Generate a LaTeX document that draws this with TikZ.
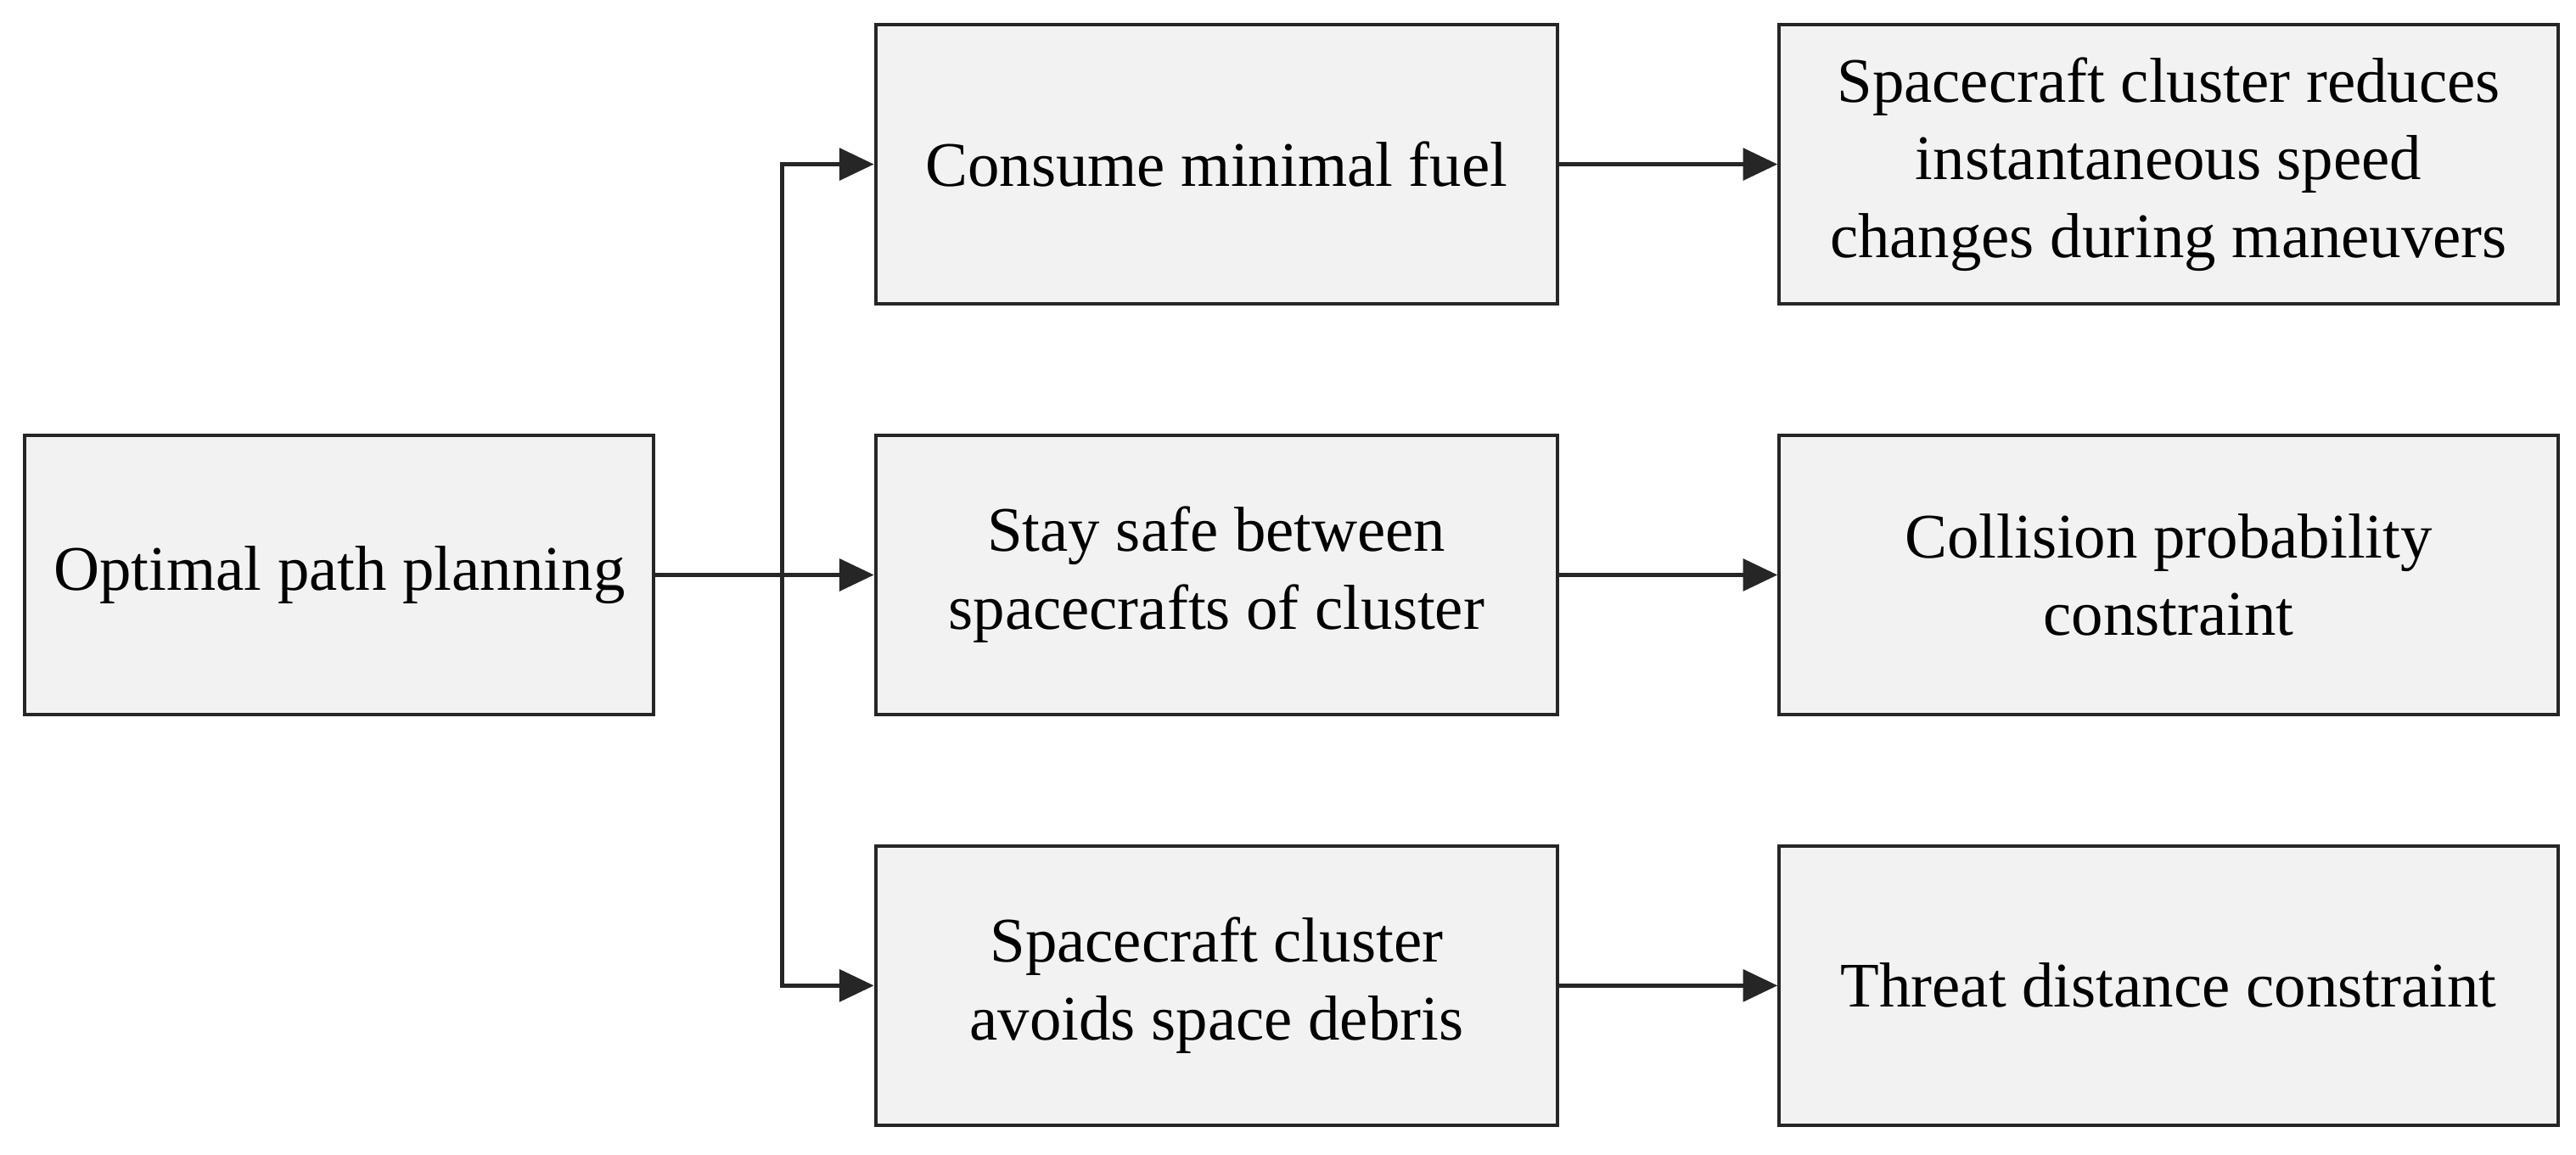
\documentclass[tikz,border=0pt]{standalone}
\usepackage{fontspec}
\setmainfont{Liberation Serif}
\usetikzlibrary{arrows.meta}
\begin{document}
\begin{tikzpicture}[x=0.02cm,y=-0.02cm,
  box/.style={draw=black!85,line width=1.2pt,fill=black!5,minimum height=3.4cm,align=center,font=\fontsize{22}{27}\selectfont,inner sep=0pt},
  arr/.style={draw=black!85,line width=1.6pt,-{Triangle[length=12pt,width=11pt]}}]
\useasboundingbox (0,0) rectangle (1568,703);
\node[box,minimum width=7.66cm] (opt) at (206.5,350) {Optimal path planning};
\node[box,minimum width=8.3cm] (fuel) at (740.5,100) {Consume minimal fuel};
\node[box,minimum width=8.3cm] (safe) at (740.5,350) {Stay safe between\\spacecrafts of cluster};
\node[box,minimum width=8.3cm] (deb) at (740.5,600) {Spacecraft cluster\\avoids space debris};
\node[box,minimum width=9.48cm] (r1) at (1320,100) {Spacecraft cluster reduces\\instantaneous speed\\changes during maneuvers};
\node[box,minimum width=9.48cm] (r2) at (1320,350) {Collision probability\\constraint};
\node[box,minimum width=9.48cm] (r3) at (1320,600) {Threat distance constraint};
\coordinate (j) at (476,350);
\draw[arr] (opt.east) -- (safe.west);
\draw[arr] (j) |- (fuel.west);
\draw[arr] (j) |- (deb.west);
\draw[arr] (fuel) -- (r1);
\draw[arr] (safe) -- (r2);
\draw[arr] (deb) -- (r3);
\end{tikzpicture}
\end{document}
